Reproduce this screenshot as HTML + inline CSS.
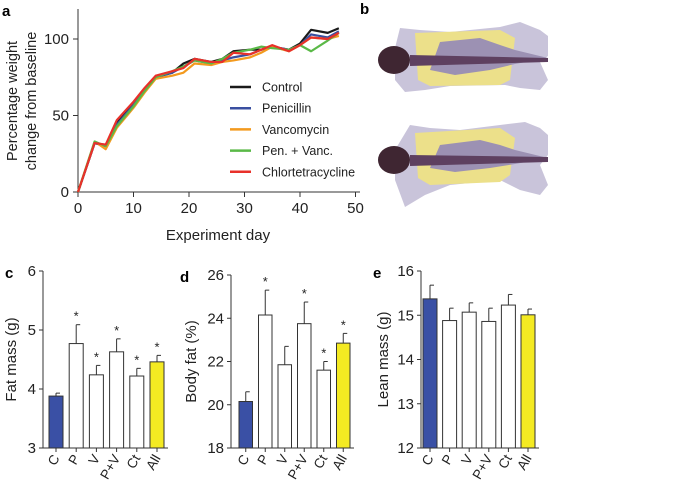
<!DOCTYPE html>
<html><head><meta charset="utf-8"><style>
body{margin:0;background:#fff;width:685px;height:491px;overflow:hidden}
svg{font-family:"Liberation Sans",sans-serif}
</style></head><body>
<svg id="fig" width="685" height="491" viewBox="0 0 685 491">
<g id="mice">
  <text x="360" y="14" font-size="15" font-weight="bold">b</text>
  <g>
    <path d="M395,48 L400,28 L420,30 L450,32 L500,27 L520,22 L540,30 L548,36 L548,56 L540,62 L548,80 L540,90 L520,88 L505,85 L450,86 L425,90 L405,92 L395,80 Z" fill="#c9c4da"/>
    <path d="M415,33 L500,30 L515,38 L510,80 L500,85 L430,86 L418,80 Z" fill="#ece08a"/>
    <path d="M440,42 L480,38 L500,45 L515,50 L548,58 L515,64 L490,70 L455,75 L430,70 Z" fill="#9c91b3"/>
    <path d="M410,55 L548,58 L548,62 L410,66 Z" fill="#5e4060"/>
    <ellipse cx="394" cy="60" rx="16" ry="14" fill="#3f2632"/>
  </g>
  <g>
    <path d="M395,150 L410,125 L430,128 L460,130 L500,125 L525,122 L540,128 L548,135 L548,155 L540,165 L548,185 L540,195 L520,190 L500,180 L450,185 L425,195 L405,207 L395,180 Z" fill="#c9c4da"/>
    <path d="M415,133 L500,128 L515,138 L510,175 L500,182 L430,185 L418,178 Z" fill="#ece08a"/>
    <path d="M440,145 L480,140 L500,145 L515,150 L548,158 L515,164 L490,168 L455,172 L430,168 Z" fill="#9c91b3"/>
    <path d="M410,155 L548,157 L548,162 L410,166 Z" fill="#5e4060"/>
    <ellipse cx="394" cy="160" rx="16" ry="14" fill="#3f2632"/>
  </g>
</g>
</svg>
<script>
const NS='http://www.w3.org/2000/svg';
const svg=document.getElementById('fig');
function mk(tag,attrs,parent,text){const e=document.createElementNS(NS,tag);for(const k in attrs)e.setAttribute(k,attrs[k]);if(text!==undefined)e.textContent=text;(parent||svg).appendChild(e);return e;}

// ---- Panel a data ----
const days=[0,3,5,7,10,12,14,17,19,21,24,26,28,31,33,35,38,40,42,45,47];
const seriesNames=['Control','Penicillin','Vancomycin','Pen. + Vanc.','Chlortetracycline'];
const seriesColors=['#1a1a1a','#3a4fa0','#f39a1e','#5ab947','#e8312a'];
const controlVals=[0,32,30,45,58,67,75,78,84,87,85,87,92,93,93,95,93,97,106,104,107];
const penVals=[0,32,30,44,57,67,75,78,82,86,84,86,88,90,93,95,93,96,103,101,105];
const vancVals=[0,33,28,42,55,65,74,76,78,84,83,85,86,88,91,95,92,96,101,100,102];
const pvVals=[0,33,30,43,56,66,75,79,82,86,84,87,91,93,95,94,93,96,92,99,104];
const ctVals=[0,32,31,47,59,68,76,79,81,87,85,85,91,90,93,96,92,96,101,100,104];
const xTicksA=[0,10,20,30,40,50];
const yTicksA=[0,50,100];

const ax=d=>78+d*5.55, ay=v=>192-v*1.53;
const ga=mk('g',{});


const la=mk('text',{x:2,y:16,'font-size':15,'font-weight':'bold'},ga,'a');


const yaxA=mk('line',{x1:78,y1:9,x2:78,y2:192,stroke:'#333','stroke-width':1},ga);


const xaxA=mk('line',{x1:78,y1:192,x2:360,y2:192,stroke:'#333','stroke-width':1},ga);


xTicksA.forEach(t=>{mk('line',{x1:ax(t),y1:192,x2:ax(t),y2:197,stroke:'#333'},ga);
 const tl=mk('text',{x:ax(t),y:213,'font-size':15,'text-anchor':'middle',fill:'#222'},ga,t);
 
 });
yTicksA.forEach(t=>{mk('line',{x1:73,y1:ay(t),x2:78,y2:ay(t),stroke:'#333'},ga);
 const tl=mk('text',{x:69,y:ay(t)+5,'font-size':15,'text-anchor':'end',fill:'#222'},ga,t);
 
 });
const xt=mk('text',{x:218,y:240,'font-size':15,'text-anchor':'middle',fill:'#222'},ga,'Experiment day');


const yt=mk('text',{transform:'translate(17,101) rotate(-90)','font-size':14.5,'text-anchor':'middle',fill:'#222'},ga);


mk('tspan',{x:0,dy:0},yt,'Percentage weight');
mk('tspan',{x:0,dy:19},yt,'change from baseline');
const allSeries=[controlVals,penVals,vancVals,pvVals,ctVals];
allSeries.forEach((vals,i)=>{
 const p=mk('polyline',{points:vals.map((v,j)=>ax(days[j])+','+ay(v)).join(' '),fill:'none',stroke:seriesColors[i],'stroke-width':2.2,'stroke-linejoin':'round'},ga);
 
 
});
seriesNames.forEach((n,i)=>{
 const y=87+i*21.2;
 const g=mk('g',{},ga);
 
 
 mk('line',{x1:230,y1:y,x2:251,y2:y,stroke:seriesColors[i],'stroke-width':2.5},g);
 mk('text',{x:262,y:y+4.5,'font-size':12.5,fill:'#222'},g,n);
});

// ---- Bar panels ----
const barCats=['C','P','V','P+V','Ct','All'];
const barFills=['#3a50a5','#fff','#fff','#fff','#fff','#f4ea22'];
const fatVals=[3.88,4.77,4.24,4.63,4.22,4.46];
const fatErr=[0.05,0.32,0.16,0.22,0.13,0.11];
const fatSig=[false,true,true,true,true,true];
const fatTicks=[3,4,5,6];
const bodyVals=[20.15,24.15,21.85,23.75,21.6,22.85];
const bodyErr=[0.45,1.15,0.85,1.0,0.4,0.45];
const bodySig=[false,true,false,true,true,true];
const bodyTicks=[18,20,22,24,26];
const leanVals=[15.37,14.88,15.07,14.86,15.23,15.01];
const leanErr=[0.31,0.28,0.21,0.3,0.24,0.13];
const leanSig=[false,false,false,false,false,false];
const leanTicks=[12,13,14,15,16];

function barPanel(o){
 const g=mk('g',{});
 
 
 const min=o.ticks[0],max=o.ticks[o.ticks.length-1];
 const yS=v=>o.bot-(v-min)/(max-min)*(o.bot-o.top);
 const xS=i=>o.x0+o.off+i*o.pitch;
 const pl=mk('text',{x:o.lx,y:o.top+7,'font-size':15,'font-weight':'bold'},g,o.label);
 
 
 const ya=mk('line',{x1:o.x0,y1:o.top,x2:o.x0,y2:o.bot,stroke:'#333'},g);
 
 
 const xa=mk('line',{x1:o.x0,y1:o.bot,x2:o.x0+o.off+5*o.pitch+o.bw+4,y2:o.bot,stroke:'#333'},g);
 
 
 o.ticks.forEach(t=>{mk('line',{x1:o.x0-4,y1:yS(t),x2:o.x0,y2:yS(t),stroke:'#333'},g);
  const tl=mk('text',{x:o.x0-7,y:yS(t)+5,'font-size':15,'text-anchor':'end',fill:'#222'},g,t);
  
  });
 const yt=mk('text',{transform:`translate(${o.ytx},${(o.top+o.bot)/2}) rotate(-90)`,'font-size':15,'text-anchor':'middle',fill:'#222'},g,o.ytitle);
 
 
 o.vals.forEach((v,i)=>{
  const x=xS(i),cx=x+o.bw/2,top=yS(v),et=yS(v+o.err[i]);
  mk('line',{x1:cx,y1:top,x2:cx,y2:et,stroke:'#333','stroke-width':1},g);
  mk('line',{x1:cx,y1:et,x2:cx+4,y2:et,stroke:'#333','stroke-width':1},g);
  const r=mk('rect',{x:x,y:top,width:o.bw,height:o.bot-top,fill:barFills[i],stroke:'#333','stroke-width':1},g);
  
  
  if(o.sig[i]){const s=mk('text',{x:cx,y:et-4,'font-size':13,'text-anchor':'middle',fill:'#222'},g,'*');
   
   }
  mk('line',{x1:cx,y1:o.bot,x2:cx,y2:o.bot+4,stroke:'#333'},g);
  const tl=mk('text',{transform:`translate(${cx+4},${o.bot+10}) rotate(-60)`,'font-size':13.5,'text-anchor':'end',fill:'#222'},g,barCats[i]);
  
  
 });
}
barPanel({name:'panel-c-fat-mass',label:'c',lx:5,x0:43,off:6,pitch:20.2,bw:14,top:271,bot:448,ticks:fatTicks,vals:fatVals,err:fatErr,sig:fatSig,ytitle:'Fat mass (g)',ytx:16});
barPanel({name:'panel-d-body-fat',label:'d',lx:180,x0:231,off:8,pitch:19.5,bw:13.5,top:275,bot:448,ticks:bodyTicks,vals:bodyVals,err:bodyErr,sig:bodySig,ytitle:'Body fat (%)',ytx:196});
barPanel({name:'panel-e-lean-mass',label:'e',lx:373,x0:421,off:2,pitch:19.6,bw:14,top:271,bot:448,ticks:leanTicks,vals:leanVals,err:leanErr,sig:leanSig,ytitle:'Lean mass (g)',ytx:388});
</script>
</body></html>
